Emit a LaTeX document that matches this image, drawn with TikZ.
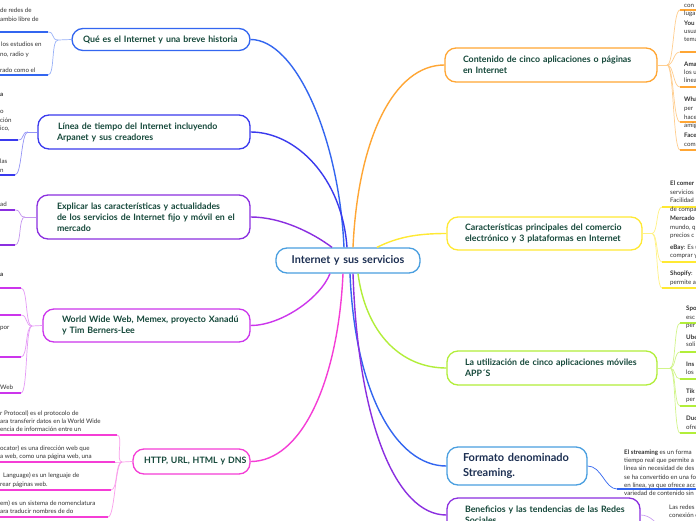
\documentclass[tikz,border=0pt]{standalone}
\usepackage{fontspec}
\setmainfont{Lato}
\definecolor{cA}{HTML}{3366F0}
\definecolor{cB}{HTML}{3A3AEE}
\definecolor{cC}{HTML}{8B2FE0}
\definecolor{cD}{HTML}{CC35EC}
\definecolor{cE}{HTML}{F53DD6}
\definecolor{cF}{HTML}{FFA634}
\definecolor{cG}{HTML}{FFE933}
\definecolor{cH}{HTML}{B2EE3A}
\definecolor{cI}{HTML}{4A9FE0}
\definecolor{ntext}{HTML}{15483A}
\definecolor{navy}{HTML}{1C2F52}
\definecolor{ltext}{HTML}{333333}
\begin{document}
\begin{tikzpicture}[x=1pt,y=-1pt]
\tikzset{
  topic/.style={draw, line width=1.3pt, rounded corners=11pt, fill=white, text=ntext,
    font=\bfseries\fontsize{8.8}{11}\selectfont, align=left, inner ysep=0pt},
  leaf/.style={text=ltext, font=\fontsize{6.2}{8}\selectfont, inner sep=0pt, anchor=base west},
  conn/.style={line width=1.4pt},
  twig/.style={line width=0.7pt},
  under/.style={line width=1.6pt}
}
\useasboundingbox (0,0) rectangle (696,520);
\clip (0,0) rectangle (696,520);
\fill[white] (0,0) rectangle (696,520);

% ---------- main topics ----------
\node[topic, draw=cI, text=navy, font=\bfseries\fontsize{10.8}{12}\selectfont, align=center,
  minimum height=25pt, text width=120pt, inner xsep=12pt] (c) at (348,260.5) {\mbox{Internet y sus servicios}};

\node[topic, draw=cA, minimum height=22pt, text width=156pt, inner xsep=11pt] (n1) at (161,39.5)
  {\mbox{Qué es el Internet y una breve historia}};
\node[topic, draw=cB, minimum height=34pt, text width=174pt, inner xsep=19pt] (n2) at (144,132)
  {\mbox{\hspace{1pt}Línea de tiempo del Internet incluyendo}\\\mbox{Arpanet y sus creadores}};
\node[topic, draw=cC, minimum height=44pt, text width=173pt, inner xsep=20pt] (n3) at (143.5,217)
  {\mbox{Explicar las características y actualidades}\\\mbox{de los servicios de Internet fijo y móvil en el}\\\mbox{mercado}};
\node[topic, draw=cD, minimum height=33pt, text width=169pt, inner xsep=19pt] (n4) at (146.5,325.5)
  {\mbox{World Wide Web, Memex, proyecto Xanadú}\\\mbox{y Tim Berners-Lee}};
\node[topic, draw=cE, align=center, minimum height=25pt, text width=95pt, inner xsep=11pt] (n5) at (191.5,461.5)
  {\mbox{HTTP, URL, HTML y DNS}};

\node[topic, draw=cF, minimum height=34pt, text width=176pt, inner xsep=18pt] (n6) at (551,65)
  {\mbox{Contenido de cinco aplicaciones o páginas}\\\mbox{en Internet}};
\node[topic, draw=cG, minimum height=33pt, text width=159pt, inner xsep=18pt] (n7) at (544.5,233.5)
  {\mbox{Características principales del comercio}\\\mbox{electrónico y 3 plataformas en Internet}};
\node[topic, draw=cH, minimum height=34pt, text width=174pt, inner xsep=18pt] (n8) at (552,368)
  {\mbox{La utilización de cinco aplicaciones móviles}\\\mbox{APP´S}};
\node[topic, draw=cI, text=navy, font=\bfseries\fontsize{11}{14.5}\selectfont,
  minimum height=38pt, text width=108pt, inner xsep=16pt] (n9) at (517,466)
  {\mbox{Formato denominado}\\\mbox{Streaming.}};
\node[topic, draw=cC, minimum height=34pt, text width=157pt, inner xsep=18pt] (n10) at (543.5,515)
  {\mbox{Beneficios y las tendencias de las Redes}\\\mbox{Sociales}};

% ---------- connectors from centre ----------
\draw[conn, cA] ([xshift=-4pt]c.north) .. controls +(-5,-110) and +(45,0) .. (n1.east);
\draw[conn, cB] ([xshift=-1pt]c.north) .. controls +(-5,-70) and +(45,0) .. (n2.east);
\draw[conn, cC] ([xshift=-16pt]c.north) .. controls +(-20,-15) and +(30,0) .. (n3.east);
\draw[conn, cD] ([xshift=-18pt]c.south) .. controls +(-10,25) and +(30,0) .. (n4.east);
\draw[conn, cE] ([xshift=-5pt]c.south) .. controls +(-5,110) and +(50,0) .. (n5.east);
\draw[conn, cF] ([xshift=5pt]c.north) .. controls +(5,-110) and +(-50,0) .. (n6.west);
\draw[conn, cG] ([xshift=29pt]c.north) .. controls +(20,-10) and +(-30,0) .. (n7.west);
\draw[conn, cH] ([xshift=10pt]c.south) .. controls +(8,60) and +(-45,0) .. (n8.west);
\draw[conn, cA] ([xshift=2pt]c.south) .. controls +(5,120) and +(-50,0) .. (n9.west);
\draw[conn, cC] ([xshift=5pt]c.south) .. controls +(5,150) and +(-50,0) .. (n10.west);

% ---------- left children ----------
\coordinate (j1) at (58,40);
\draw[twig, cA!50] (n1.west) -- (j1);
\foreach \n/\e/\y in {p11/48/32, p12/48/75} {
  \coordinate (\n) at (\e,\y); \coordinate (\n x) at (-2,\y);
  \draw[twig, cA!50] (j1) .. controls +(-7,0) and +(7,0) .. (\n);
  \draw[under, cA] (\n) -- (\n x);}

\coordinate (j2) at (28,132);
\draw[twig, cB!55] (n2.west) -- (j2);
\foreach \n/\e/\y in {p21/18/140, p22/15/175} {
  \coordinate (\n) at (\e,\y); \coordinate (\n x) at (-2,\y);
  \draw[twig, cB!55] (j2) .. controls +(-7,0) and +(7,0) .. (\n);
  \draw[under, cB] (\n) -- (\n x);}

\coordinate (j3) at (25,217);
\draw[twig, cC!50] (n3.west) -- (j3);
\foreach \n/\e/\y in {p31/15/210, p32/15/245} {
  \coordinate (\n) at (\e,\y); \coordinate (\n x) at (-2,\y);
  \draw[twig, cC!50] (j3) .. controls +(-7,0) and +(7,0) .. (\n);
  \draw[under, cC] (\n) -- (\n x);}

\coordinate (j4) at (32,326);
\draw[twig, cD!50] (n4.west) -- (j4);
\foreach \n/\e/\y in {p41/21/288, p42/21/315, p43/21/357, p44/21/393} {
  \coordinate (\n) at (\e,\y); \coordinate (\n x) at (-2,\y);
  \draw[twig, cD!50] (j4) .. controls +(-7,0) and +(7,0) .. (\n);
  \draw[under, cD] (\n) -- (\n x);}

\coordinate (j5) at (122,462);
\draw[twig, cE!50] (n5.west) -- (j5);
\foreach \n/\e/\y in {p51/117/435, p52/115/462, p53/111/490, p54/108/517} {
  \coordinate (\n) at (\e,\y); \coordinate (\n x) at (-2,\y);
  \draw[twig, cE!50] (j5) .. controls +(-7,0) and +(7,0) .. (\n);
  \draw[under, cE] (\n) -- (\n x);}

% ---------- right children ----------
\coordinate (j6) at (667,65);
\draw[twig, cF!55] (n6.east) -- (j6);
\foreach \n/\y in {q61/10, q62/52, q63/87, q64/122, q65/150} {
  \coordinate (\n) at (680,\y); \coordinate (\n x) at (698,\y);
  \draw[twig, cF!55] (j6) .. controls +(7,0) and +(-7,0) .. (\n);
  \draw[under, cF] (\n) -- (\n x);}

\coordinate (j7) at (652,233.5);
\draw[twig, cG!60] (n7.east) -- (j7);
\foreach \n/\y in {q71/207, q72/262, q73/288} {
  \coordinate (\n) at (662,\y); \coordinate (\n x) at (698,\y);
  \draw[twig, cG!60] (j7) .. controls +(6,0) and +(-6,0) .. (\n);
  \draw[under, cG] (\n) -- (\n x);}

\coordinate (j8) at (670,368);
\draw[twig, cH!60] (n8.east) -- (j8);
\foreach \n/\y in {q81/323, q82/352, q83/379, q84/406, q85/433} {
  \coordinate (\n) at (680,\y); \coordinate (\n x) at (698,\y);
  \draw[twig, cH!60] (j8) .. controls +(6,0) and +(-6,0) .. (\n);
  \draw[under, cH] (\n) -- (\n x);}

\coordinate (q91) at (617,489); \coordinate (q91x) at (698,489);
\draw[twig, cA] (n9.east) .. controls +(14,0) and +(-12,0) .. (q91);
\draw[under, cA] (q91) -- (q91x);

\coordinate (q101) at (662,532);
\draw[twig, cC!45] (n10.east) .. controls +(10,0) and +(-4,-8) .. (q101);

% ---------- leaf texts, left ----------
\node[leaf] (a1) at (0,12) {de redes de};
\node[leaf] (a2) at (0,21) {ambio libre de};
\node[leaf] (a3) at (1,46) {los estudios en};
\node[leaf] (a4) at (0,56) {no, radio y};
\node[leaf] (a5) at (0,72.5) {rado como el};
\node[leaf] (b1) at (0,96) {\textbf{a}};
\node[leaf] (b2) at (0,113) {o};
\node[leaf] (b3) at (0,122) {ción};
\node[leaf] (b4) at (0,130.5) {ico,};
\node[leaf] (b5) at (0,163) {las};
\node[leaf] (b6) at (0,172) {n};
\node[leaf] (c1) at (0,206) {ad};
\node[leaf] (d1) at (0,276) {\textbf{a}};
\node[leaf] (d2) at (0,329) {por};
\node[leaf] (d3) at (0,389) {Web};
\node[leaf] (e1) at (0,415) {r Protocol) es el protocolo de};
\node[leaf] (e2) at (0,423) {ara transferir datos en la World Wide};
\node[leaf] (e3) at (0,431.5) {encia de información entre un};
\node[leaf] (e4) at (0,450) {ocator) es una dirección web que};
\node[leaf] (e5) at (0,458.5) {a web, como una página web, una};
\node[leaf] (e6) at (3,477) {Language) es un lenguaje de};
\node[leaf] (e7) at (0,486) {rear páginas web.};
\node[leaf] (e8) at (0,505) {em) es un sistema de nomenclatura};
\node[leaf] (e9) at (0,513.5) {ara traducir nombres de do};

% ---------- leaf texts, right ----------
\node[leaf] (f1) at (684,7) {con};
\node[leaf] (f2) at (684,15) {luga};
\node[leaf] (f3) at (684,25) {\textbf{You}};
\node[leaf] (f4) at (684,33) {usua};
\node[leaf] (f5) at (684,41) {tema};
\node[leaf] (f6) at (684,66) {\textbf{Ama}};
\node[leaf] (f7) at (684,74) {los u};
\node[leaf] (f8) at (684,82.5) {línea};
\node[leaf] (f9) at (684,101) {\textbf{Wha}};
\node[leaf] (f10) at (684,110) {per};
\node[leaf] (f11) at (684,119) {hace};
\node[leaf] (f12) at (684,127.5) {amig};
\node[leaf] (f13) at (684,137) {\textbf{Face}};
\node[leaf] (f14) at (684,146) {com};

\node[leaf] (g1) at (670,185.5) {\textbf{El comer}};
\node[leaf] (g2) at (670,194) {servicios};
\node[leaf] (g3) at (670,202) {Facilidad};
\node[leaf] (g4) at (670,211) {de compa};
\node[leaf] (g5) at (670,220.5) {\textbf{Mercado}};
\node[leaf] (g6) at (670,229) {mundo, q};
\node[leaf] (g7) at (670,237.5) {precios c};
\node[leaf] (g8) at (670,249) {\textbf{eBay}: Es u};
\node[leaf] (g9) at (670,257.5) {comprar y};
\node[leaf] (g10) at (670,275.5) {\textbf{Shopify}:};
\node[leaf] (g11) at (670,284.5) {permite a};

\node[leaf] (h1) at (686,310.5) {\textbf{Spo}};
\node[leaf] (h2) at (686,319) {esc};
\node[leaf] (h3) at (686,327) {per};
\node[leaf] (h4) at (686,339) {\textbf{Ube}};
\node[leaf] (h5) at (686,346.5) {soli};
\node[leaf] (h6) at (686,366) {\textbf{Ins}};
\node[leaf] (h7) at (686,374) {los};
\node[leaf] (h8) at (686,393) {\textbf{Tik}};
\node[leaf] (h9) at (686,401.5) {per};
\node[leaf] (h10) at (686,420.5) {\textbf{Duo}};
\node[leaf] (h11) at (686,429) {ofre};

\node[leaf] (i1) at (624,454) {\textbf{El streaming} es un forma};
\node[leaf] (i2) at (624,462.5) {tiempo real que permite a};
\node[leaf] (i3) at (624,470.5) {línea sin necesidad de des};
\node[leaf] (i4) at (624,479) {se ha convertido en una fo};
\node[leaf] (i5) at (624,487) {en línea, ya que ofrece acc};
\node[leaf] (i6) at (624,495.5) {variedad de contenido sin};

\node[leaf] (k1) at (669,509) {Las redes s};
\node[leaf] (k2) at (669,517.5) {conexión c};
\end{tikzpicture}
\end{document}
